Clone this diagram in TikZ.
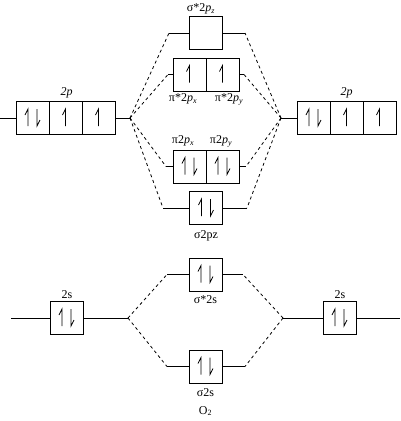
\documentclass[tikz,border=0pt]{standalone}
\usepackage{fontspec}
\setmainfont{Liberation Serif}
\newcommand{\pit}[1]{\textit{p}\textsubscript{\textit{#1}}}
\begin{document}
\begin{tikzpicture}[x=1pt,y=-1pt,
  orb/.style={draw, line width=0.8pt, minimum width=33pt, minimum height=33pt, inner sep=0pt, outer sep=0pt},
  lvl/.style={line width=0.8pt},
  corr/.style={line width=0.8pt, dash pattern=on 3pt off 3pt},
  lab/.style={font=\fontsize{12}{14}\selectfont, inner sep=0pt},
  spinup/.pic={\draw[line width=0.8pt] (0,8) -- (0,-9) -- (-3,-3);},
  spindn/.pic={\draw[line width=0.8pt] (0,-9) -- (0,8) -- (3,2);},
  paired/.pic={\pic at (-4.5,0) {spinup}; \pic at (4.5,0) {spindn};},
  single/.pic={\pic at (0,0) {spinup};}
]
\useasboundingbox (0,0) rectangle (400,421);

% ---- left 2p
\node[orb] (L1) at (32.5,118) {};
\node[orb] (L2) at (65.5,118) {};
\node[orb] (L3) at (98.5,118) {};
\pic at (L1.center) {paired};
\pic at (L2.center) {single};
\pic at (L3.center) {single};
\node[lab] (L2plab) at (66.5,93) {\textit{2p}};
\coordinate (la) at (0,118);
\coordinate (lp) at (130,118);
\draw[lvl] (la) -- (L1.west);
\draw[lvl] (L3.east) -- (lp);

% ---- right 2p
\node[orb] (R1) at (313.5,118) {};
\node[orb] (R2) at (346.5,118) {};
\node[orb] (R3) at (379.5,118) {};
\pic at (R1.center) {paired};
\pic at (R2.center) {single};
\pic at (R3.center) {single};
\node[lab] (R2plab) at (346.5,93) {\textit{2p}};
\coordinate (rp) at (281,118);
\draw[lvl] (rp) -- (R1.west);

% ---- sigma*2pz
\node[orb] (SS) at (206,33) {};
\node[lab] (SSlab) at (201,9) {σ*2\pit{z}};
\coordinate (a1) at (169,33);
\coordinate (a2) at (245,33);
\draw[lvl] (a1) -- (SS.west);
\draw[lvl] (SS.east) -- (a2);

% ---- pi*2p
\node[orb] (PS1) at (189.5,74.5) {};
\node[orb] (PS2) at (222.5,74.5) {};
\pic at (PS1.center) {single};
\pic at (PS2.center) {single};
\node[lab] (PS1lab) at (183,99) {π*2\pit{x}};
\node[lab] (PS2lab) at (229,99) {π*2\pit{y}};
\coordinate (b1) at (168,74.5);
\coordinate (b2) at (244,74.5);
\draw[lvl] (b1) -- (PS1.west);
\draw[lvl] (PS2.east) -- (b2);

% ---- pi2p
\node[orb] (P1) at (189.5,166.5) {};
\node[orb] (P2) at (222.5,166.5) {};
\pic at (P1.center) {paired};
\pic at (P2.center) {paired};
\node[lab] (P1lab) at (183,141) {π2\pit{x}};
\node[lab] (P2lab) at (221,141) {π2\pit{y}};
\coordinate (c1) at (166,166.5);
\coordinate (c2) at (246,166.5);
\draw[lvl] (c1) -- (P1.west);
\draw[lvl] (P2.east) -- (c2);

% ---- sigma2pz
\node[orb] (S) at (206,208) {};
\pic at (S.center) {paired};
\node[lab] (Slab) at (206,236) {σ2pz};
\coordinate (d1) at (163,208);
\coordinate (d2) at (247,208);
\draw[lvl] (d1) -- (S.west);
\draw[lvl] (S.east) -- (d2);

% ---- correlation lines 2p
\foreach \t in {a1,b1,c1,d1} \draw[corr] (lp) -- (\t);
\foreach \t in {a2,b2,c2,d2} \draw[corr] (rp) -- (\t);

% ---- left 2s
\node[orb] (LS) at (66.5,318) {};
\pic at (LS.center) {paired};
\node[lab] (LSlab) at (67,295) {2s};
\coordinate (ls0) at (11,318);
\coordinate (lsp) at (128,318);
\draw[lvl] (ls0) -- (LS.west);
\draw[lvl] (LS.east) -- (lsp);

% ---- right 2s
\node[orb] (RS) at (339.5,318) {};
\pic at (RS.center) {paired};
\node[lab] (RSlab) at (340,295) {2s};
\coordinate (rs0) at (400,318);
\coordinate (rsp) at (283,318);
\draw[lvl] (rsp) -- (RS.west);
\draw[lvl] (RS.east) -- (rs0);

% ---- sigma*2s
\node[orb] (SSs) at (205.5,274.5) {};
\pic at (SSs.center) {paired};
\node[lab] (SSslab) at (205.5,300) {σ*2s};
\coordinate (e1) at (167,274.5);
\coordinate (e2) at (243,274.5);
\draw[lvl] (e1) -- (SSs.west);
\draw[lvl] (SSs.east) -- (e2);

% ---- sigma2s
\node[orb] (Ss) at (205.5,366.5) {};
\pic at (Ss.center) {paired};
\node[lab] (Sslab) at (205.5,393) {σ2s};
\node[lab] (O2) at (205.5,411) {O\textsubscript{2}};
\coordinate (f1) at (167,366.5);
\coordinate (f2) at (245,366.5);
\draw[lvl] (f1) -- (Ss.west);
\draw[lvl] (Ss.east) -- (f2);

\foreach \t in {e1,f1} \draw[corr] (lsp) -- (\t);
\foreach \t in {e2,f2} \draw[corr] (rsp) -- (\t);
\end{tikzpicture}
\end{document}
